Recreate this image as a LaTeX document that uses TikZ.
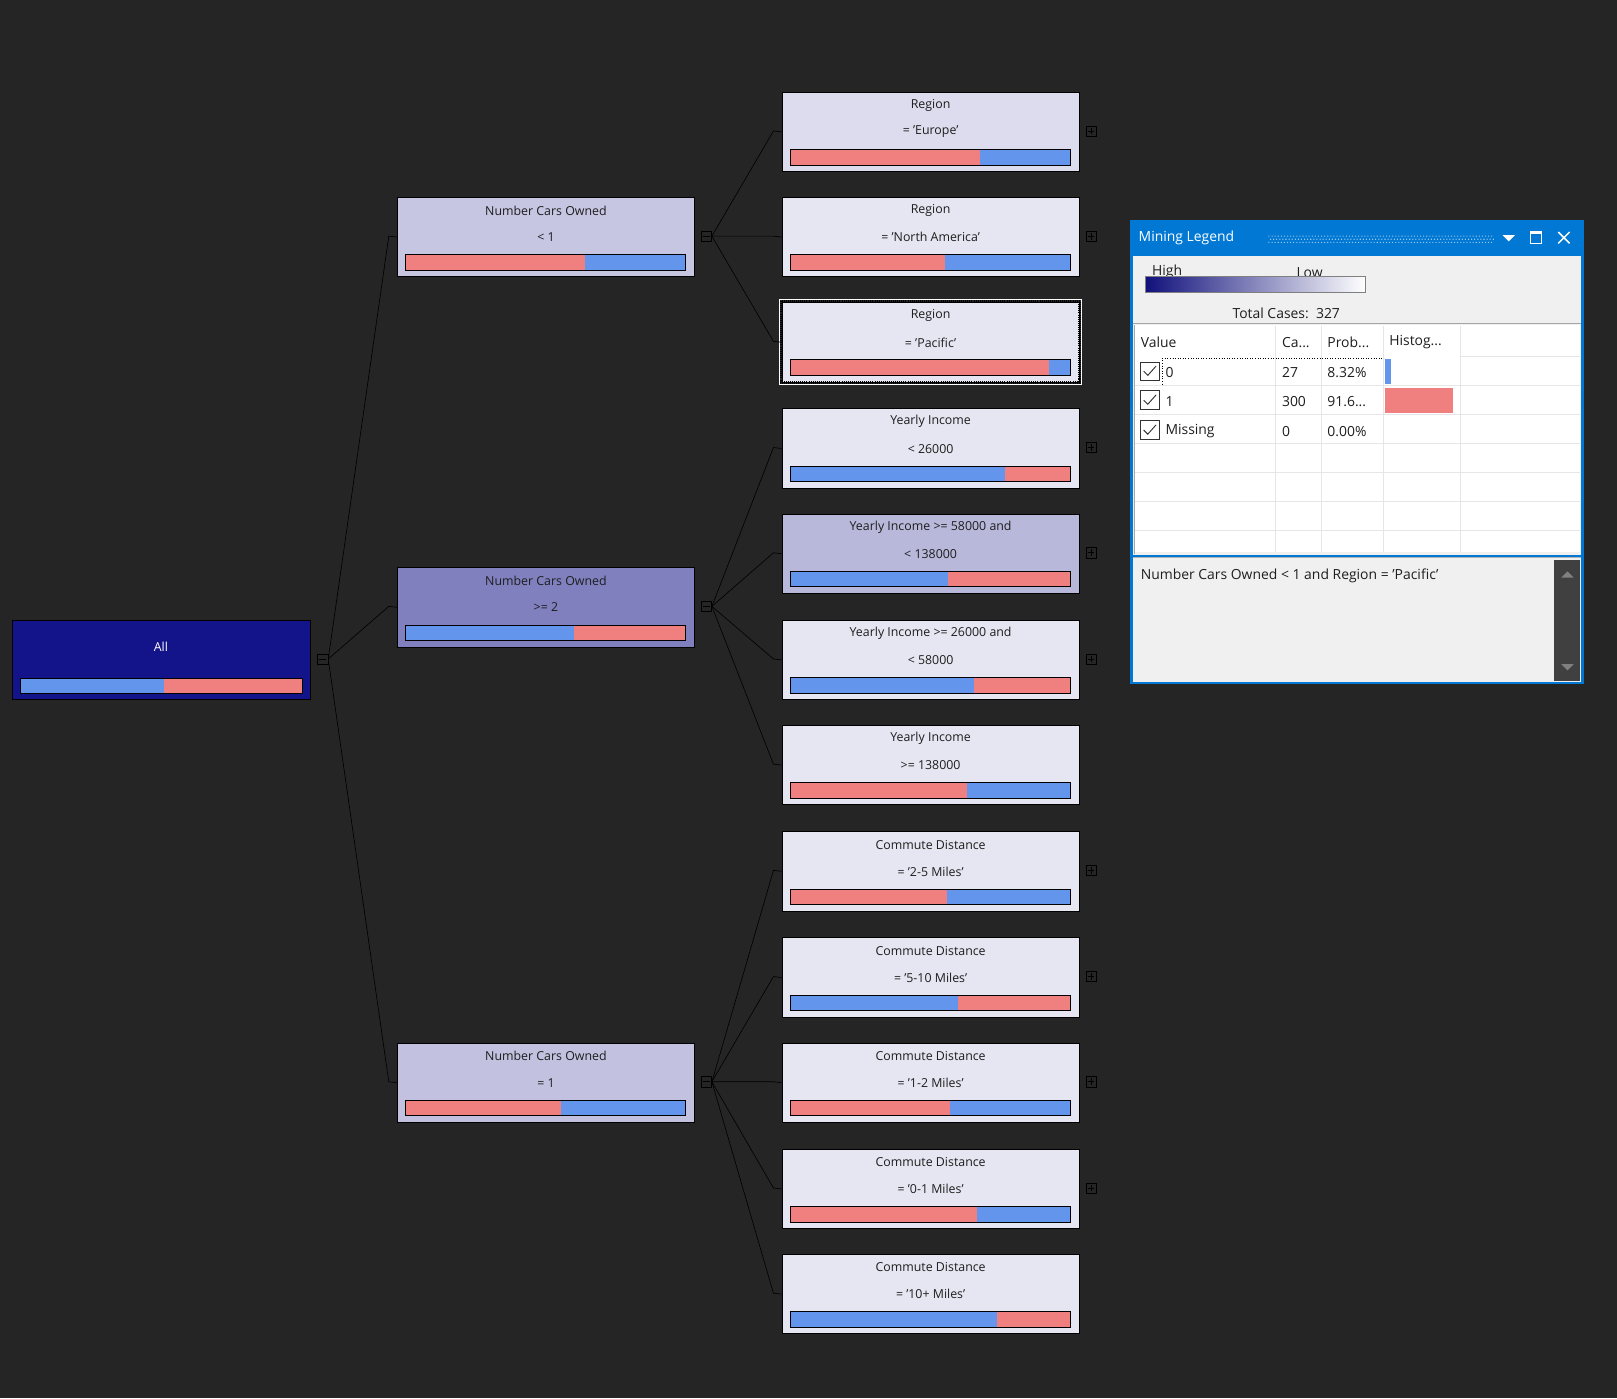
\documentclass[tikz,border=0pt]{standalone}
\usepackage{fontspec}
\setmainfont{Open Sans}
\usetikzlibrary{calc}
\definecolor{bg}{HTML}{252526}
\definecolor{rbar}{HTML}{F08080}
\definecolor{bbar}{HTML}{6495ED}
\definecolor{lt}{HTML}{E6E6F2}
\definecolor{ltb}{HTML}{DCDCEE}
\definecolor{mid}{HTML}{B8B8DB}
\definecolor{nco}{HTML}{C6C6E3}
\definecolor{ncoa}{HTML}{8080BF}
\definecolor{ncob}{HTML}{C2C2E0}
\definecolor{allc}{HTML}{13138A}
\definecolor{vsblue}{HTML}{0078D4}
\definecolor{panel}{HTML}{F0F0F0}
\definecolor{grid}{HTML}{E6E6E6}
\definecolor{txtc}{HTML}{1E1E1E}
\tikzset{
 tb/.style={draw=black,line width=0.8pt,minimum width=288pt,minimum height=77pt,inner sep=0,anchor=north west},
 txt/.style={font=\fontsize{12}{14}\selectfont,text=txtc,inner sep=0},
 conn/.style={draw=black,line width=0.6pt},
 expbox/.style={draw=black,line width=0.6pt,minimum size=10pt,inner sep=0},
 lg/.style={font=\fontsize{13.5}{16}\selectfont,text=txtc,inner sep=0,anchor=west},
}
\newcommand\tbox[9]{%
 \node[tb,fill=#4] (#1) at (#2,#3) {};
 \node[txt] at ($(#1.north)+(0,13)$) {#5};
 \node[txt] at ($(#1.north)+(0,39)$) {#6};
 \fill[#7] (#2+8,#3+56) rectangle (#8,#3+71);
 \fill[#9] (#8,#3+56) rectangle (#2+280,#3+71);
 \draw[line width=0.8pt] (#2+8,#3+56) rectangle (#2+280,#3+71);
 \coordinate (#1in) at (#2-8,#3+38);
}
\newcommand\expm[2]{\node[expbox] (#1) at (#2) {}; \draw[line width=0.6pt] ($(#1.west)+(2,0)$) -- ($(#1.east)+(-2,0)$);}
\newcommand\expp[2]{\node[expbox] (#1) at (#2) {}; \draw[line width=0.6pt] ($(#1.west)+(2,0)$) -- ($(#1.east)+(-2,0)$) ($(#1.north)+(0,2)$) -- ($(#1.south)+(0,-2)$);}
\newcommand\lrow[4]{%
 \draw[black!80,line width=0.8pt] (1106,#1-9) rectangle (1124,#1+9);
 \draw[black!80,line width=0.9pt] (1109,#1) -- (1113,#1+4) -- (1121,#1-5);
 \node[lg] at (1130,#1+1) {#2};
 \node[lg] at (1243,#1+1) {#3};
 \node[lg] at (1287,#1+1) {#4};
}
\begin{document}
\begin{tikzpicture}[x=1pt,y=-1pt]
\fill[bg] (0,0) rectangle (1568,1356);
\useasboundingbox (0,0) rectangle (1568,1356);
% root
\node[tb,minimum width=289pt,fill=allc] (all) at (12,601) {};
\node[txt,text=white] at (156,627) {All};
\fill[bbar] (20,658) rectangle (159,672);
\fill[rbar] (159,658) rectangle (293,672);
\draw[line width=0.8pt] (20,658) rectangle (293,672);
\expm{allx}{313,639}
% level 1
\tbox{n1}{385}{191}{nco}{Number Cars Owned}{< 1}{rbar}{567}{bbar}
\tbox{n2}{385}{550}{ncoa}{Number Cars Owned}{>= 2}{bbar}{557}{rbar}
\tbox{n3}{385}{1011}{ncob}{Number Cars Owned}{= 1}{rbar}{544}{bbar}
\expm{n1x}{685,229}
\expm{n2x}{685,588}
\expm{n3x}{685,1049}
% level 2
\tbox{a}{758}{89}{ltb}{Region}{= 'Europe'}{rbar}{950}{bbar}
\tbox{b}{758}{191}{lt}{Region}{= 'North America'}{rbar}{916}{bbar}
\tbox{c}{758}{293}{lt}{Region}{= 'Pacific'}{rbar}{1017}{bbar}
\draw[black,line width=2.5pt,dash pattern=on 1pt off 1pt] (757,292) rectangle (1047,371);
\draw[white,line width=0.6pt] (755.5,290.5) rectangle (1048.5,372.5);
\tbox{d}{758}{396}{lt}{Yearly Income}{< 26000}{bbar}{975}{rbar}
\tbox{e}{758}{498}{mid}{Yearly Income >= 58000 and}{< 138000}{bbar}{919}{rbar}
\tbox{f}{758}{601}{lt}{Yearly Income >= 26000 and}{< 58000}{bbar}{944}{rbar}
\tbox{g}{758}{703}{lt}{Yearly Income}{>= 138000}{rbar}{938}{bbar}
\tbox{h}{758}{806}{lt}{Commute Distance}{= '2-5 Miles'}{rbar}{918}{bbar}
\tbox{i}{758}{909}{lt}{Commute Distance}{= '5-10 Miles'}{bbar}{929}{rbar}
\tbox{j}{758}{1011}{lt}{Commute Distance}{= '1-2 Miles'}{rbar}{921}{bbar}
\tbox{k}{758}{1114}{lt}{Commute Distance}{= '0-1 Miles'}{rbar}{947}{bbar}
\tbox{l}{758}{1216}{lt}{Commute Distance}{= '10+ Miles'}{bbar}{967}{rbar}
\foreach \n/\y in {a/127,b/229,d/434,e/536,f/639,h/844,i/947,j/1049,k/1152}{\expp{\n x}{1058,\y}}
% connectors
\foreach \c in {n1,n2,n3}{\draw[conn] (allx.east) -- (\c in) -- (\c.west);}
\foreach \c in {a,b,c}{\draw[conn] (n1x.east) -- (\c in) -- (\c.west);}
\foreach \c in {d,e,f,g}{\draw[conn] (n2x.east) -- (\c in) -- (\c.west);}
\foreach \c in {h,i,j,k,l}{\draw[conn] (n3x.east) -- (\c in) -- (\c.west);}
% legend window
\fill[vsblue] (1096,213) rectangle (1536,663);
\node[font=\fontsize{13.5}{16}\selectfont,text=white,anchor=west,inner sep=0] (lgt) at (1104,231) {Mining Legend};
\foreach \xx in {1230,1233,...,1446}{\fill[white!60!vsblue] (\xx,228.5) rectangle ++(1,1) (\xx+1.5,231.5) rectangle ++(1,1) (\xx,234.5) rectangle ++(1,1);}
\fill[white] (1457,228) -- (1469,228) -- (1463,234) -- cycle;
\draw[white,line width=1.2pt] (1484,225) rectangle (1495,236); \draw[white,line width=2.5pt] (1484,226) -- (1495,226);
\draw[white,line width=1.5pt] (1511,225) -- (1522,236) (1522,225) -- (1511,236);
\fill[panel] (1099,248) rectangle (1533,538);
\begin{scope}
\clip (1099,248) rectangle (1533,313);
\node[lg] at (1117,264) {High};
\node[lg] at (1257,264) {Low};
\node[lg] at (1195,304) {Total Cases:\ \ 327};
\end{scope}
\shade[left color=allc!90!black,right color=white] (1111,268) rectangle (1324,284);
\draw[gray,line width=0.8pt] (1111,268) rectangle (1324,284);
\draw[gray!70,line width=0.8pt] (1099,314) -- (1533,314);
\fill[white] (1100,315) rectangle (1532,535);
\draw[gray!70,line width=1pt] (1100,315) -- (1100,537);
\foreach \yy in {374,402,430,458,486,514}{\draw[grid,line width=0.8pt] (1101,\yy) -- (1532,\yy);}
\draw[grid,line width=0.8pt] (1417,346) -- (1532,346);
\foreach \xx in {1237,1281,1341,1416}{\draw[grid,line width=0.8pt] (\xx,316) -- (\xx,535);}
\draw[black,dotted,line width=0.5pt] (1127,347) -- (1342,347) (1127,347) -- (1127,373);
\node[lg] at (1106,332) {Value};
\node[lg] at (1243,332) {Ca...};
\node[lg] at (1287,332) {Prob...};
\node[lg] at (1347,332) {Histog...};
\lrow{360}{0}{27}{8.32\%}
\lrow{388}{1}{300}{91.6...}
\lrow{417}{Missing}{0}{0.00\%}
\fill[bbar] (1343,348) rectangle (1349,372);
\fill[rbar] (1343,376) rectangle (1409,400);
\fill[panel] (1099,541) rectangle (1533,661);
\draw[gray!60,line width=0.8pt] (1099,541) -- (1533,541);
\node[lg] at (1106,558) {Number Cars Owned < 1 and Region = 'Pacific'};
\fill[black!75] (1507,543) rectangle (1532,660);
\fill[gray] (1514,560) -- (1526,560) -- (1520,554) -- cycle;
\fill[gray] (1514,644) -- (1526,644) -- (1520,650) -- cycle;
\end{tikzpicture}
\end{document}
